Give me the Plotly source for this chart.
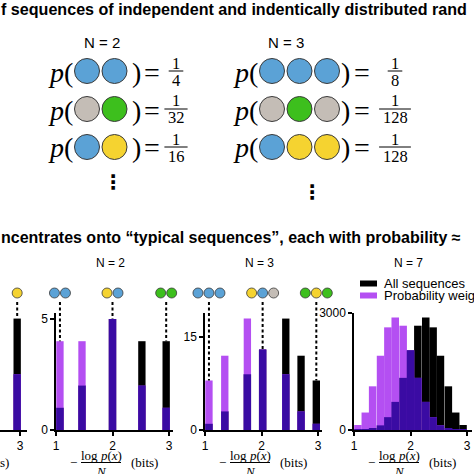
import plotly.graph_objects as go

W = H = 474

# ---- top: example sequences and their probabilities ----
seqs_n2 = [["blue", "blue"], ["gray", "green"], ["blue", "yellow"]]
probs_n2 = [("1", "4"), ("1", "32"), ("1", "16")]
seqs_n3 = [["blue", "blue", "blue"], ["gray", "green", "gray"], ["blue", "yellow", "yellow"]]
probs_n3 = [("1", "8"), ("1", "128"), ("1", "128")]

# ---- bottom: histograms of -log p(x)/N ----
n1_x = [1.05, 2.0, 2.95]
n1_all = [1, 1, 2]
n1_weighted = [2, 1, 1]
n1_both = [1, 1, 1]

n2_x = [1.07, 1.46, 2.0, 2.52, 2.95]
n2_all = [1, 2, 5, 4, 4]
n2_weighted = [4, 4, 5, 2, 1]
n2_both = [1, 2, 5, 2, 1]

n3_x = [1.07, 1.35, 1.75, 2.02, 2.43, 2.7, 2.97]
n3_all = [1, 3, 9, 13, 18, 12, 8]
n3_weighted = [8, 12, 18, 13, 9, 3, 1]
n3_both = [1, 3, 9, 13, 9, 3, 1]

n7_x = [1.07, 1.2, 1.33, 1.47, 1.6, 1.73, 1.87, 2.0, 2.13, 2.27, 2.4, 2.53, 2.67, 2.8, 2.93]
n7_all = [1, 7, 35, 119, 329, 721, 1337, 2045, 2674, 2884, 2632, 1904, 1120, 448, 128]
n7_weighted = [128, 448, 1120, 1904, 2632, 2884, 2674, 2045, 1337, 721, 329, 119, 35, 7, 1]
n7_both = [1, 7, 35, 119, 329, 721, 1337, 2045, 1337, 721, 329, 119, 35, 7, 1]

# sequences drawn above some of the bars
n1_marks = [(2.95, ["yellow"])]
n2_marks = [(1.07, ["blue", "blue"]), (2.0, ["yellow", "blue"]), (2.95, ["green", "green"])]
n3_marks = [(1.07, ["blue", "blue", "blue"]), (2.02, ["yellow", "blue", "gray"]),
            (2.97, ["green", "yellow", "green"])]

legend_labels = ["All sequences", "Probability weighted"]

COL = {"blue": "#5ba2d6", "gray": "#c4bdb6", "green": "#3dbf1d", "yellow": "#f5d330"}
BLACK, PURPLE, INDIGO = "#000000", "#b44ff2", "#3a0ba3"
SANS = "Liberation Sans, Arial, sans-serif"
SERIF = "Liberation Serif, Times New Roman, serif"

BASE, TOP = 430, 313   # pixel rows of y=0 and of the top of the y axes
UNIT = 56.5            # pixels per bit on the x axes

# left/right: pixels of the x axis line; x0: value at its left end
panels = [
    dict(x=n1_x, all=n1_all, w=n1_weighted, both=n1_both, marks=n1_marks, left=0, right=27,
         x0=3 - 20 / UNIT, ymax=2.1, ytick=None, bw=0.13, title=None),
    dict(x=n2_x, all=n2_all, w=n2_weighted, both=n2_both, marks=n2_marks, left=56, right=173,
         x0=1, ymax=5.27, ytick=5, bw=0.13, title="N = 2"),
    dict(x=n3_x, all=n3_all, w=n3_weighted, both=n3_both, marks=n3_marks, left=205, right=322,
         x0=1, ymax=18.9, ytick=15, bw=0.13, title="N = 3"),
    dict(x=n7_x, all=n7_all, w=n7_weighted, both=n7_both, marks=[], left=354, right=472,
         x0=1, ymax=3000, ytick=3000, bw=2 / 15, title="N = 7"),
]

fig = go.Figure()
annos = []
shapes = []


def px(x):
    return x / W


def py(y):
    return (H - y) / H


def txt(x, y, s, size, family=SANS, xanchor="center", yanchor="middle"):
    annos.append(dict(x=px(x), y=py(y), xref="paper", yref="paper", text=s, showarrow=False,
                      font=dict(size=size, family=family, color="black"),
                      xanchor=xanchor, yanchor=yanchor, borderpad=0))


def hline(x0, x1, y, width=1):
    shapes.append(dict(type="line", xref="paper", yref="paper", x0=px(x0), x1=px(x1),
                       y0=py(y), y1=py(y), line=dict(color="black", width=width)))


# ---- titles ----
txt(0, 9, "<b>f sequences of independent and indentically distributed rand</b>", 16.1, xanchor="left")
txt(0, 237, "<b>ncentrates onto \u201ctypical sequences\u201d, each with probability \u2248</b>", 16,
    xanchor="left")

# ---- top equations ----
row_y = [71, 109, 147]
blocks = [
    dict(seqs=seqs_n2, probs=probs_n2, cx=87, paren_r=136, eq=152, frac=176, label=102, dots=(113, 182)),
    dict(seqs=seqs_n3, probs=probs_n3, cx=272, paren_r=345, eq=362, frac=395, label=286, dots=(312, 192)),
]
cxs, cys, ccols = [], [], []
for b in blocks:
    txt(b["label"], 42, "N = " + str(len(b["seqs"][0])), 15)
    for r, (seq, (num, den)) in enumerate(zip(b["seqs"], b["probs"])):
        y = row_y[r]
        for j, c in enumerate(seq):
            cxs.append(b["cx"] + j * 27.5)
            cys.append(y)
            ccols.append(COL[c])
        txt(b["cx"] - 13, y + 1, "<i>p</i>(", 28, SERIF, xanchor="right")
        txt(b["paren_r"], y + 1, ")", 28, SERIF)
        txt(b["eq"], y + 1, "=", 28, SERIF)
        txt(b["frac"], y - 8, num, 16.5, SERIF)
        txt(b["frac"], y + 9, den, 16.5, SERIF)
        half = max(len(num), len(den)) * 4.3 + 3
        hline(b["frac"] - half, b["frac"] + half, y)
    txt(b["dots"][0], b["dots"][1], "<b>\u22ee</b>", 20, "DejaVu Sans")

fig.add_trace(go.Scatter(x=cxs, y=cys, mode="markers", xaxis="x5", yaxis="y5", hoverinfo="skip",
                         marker=dict(size=25, color=ccols, line=dict(color="#3a3a3a", width=1))))

# ---- bottom histograms ----
sx, sy, scol = [], [], []
for i, p in enumerate(panels, start=1):
    xa, ya = "x%d" % i, "y%d" % i
    for vals, color in [(p["all"], BLACK), (p["w"], PURPLE), (p["both"], INDIGO)]:
        fig.add_trace(go.Bar(x=p["x"], y=vals, width=p["bw"], marker_color=color, marker_line_width=0,
                             xaxis=xa, yaxis=ya, hoverinfo="skip"))
    span = (p["right"] - p["left"]) / UNIT
    fig.layout["xaxis%d" % i] = dict(
        domain=[px(p["left"]), px(p["right"])], range=[p["x0"], p["x0"] + span], anchor=ya,
        showline=True, linewidth=1.5, linecolor="black", ticks="outside", ticklen=4, tickwidth=1.5,
        tickcolor="black", tickvals=[1, 2, 3], showgrid=False, zeroline=False,
        tickfont=dict(size=12, family=SANS, color="black"))
    yax = dict(domain=[py(BASE), py(TOP)], range=[0, p["ymax"]], anchor=xa,
               showgrid=False, zeroline=False)
    if p["ytick"] is None:
        yax["visible"] = False
    else:
        yax.update(showline=True, linewidth=1.5, linecolor="black", ticks="outside", ticklen=4,
                   tickwidth=1.5, tickcolor="black", tickvals=[0, p["ytick"]],
                   tickfont=dict(size=12, family=SANS, color="black"))
    fig.layout["yaxis%d" % i] = yax

    # x axis label: -log p(x) / N (bits)
    p0 = p["left"] + (1 - p["x0"]) * UNIT
    txt(p0 + 17, 462, "\u2212", 13, SERIF)
    txt(p0 + 45, 455, "log <i>p</i>(<i>x</i>)", 13, SERIF)
    hline(p0 + 25, p0 + 65, 462.5)
    txt(p0 + 45, 471, "<i>N</i>", 13, SERIF)
    txt(p0 + 88, 462, "(bits)", 13, SERIF)
    if p["title"]:
        txt(p0 + 54, 263, p["title"], 12)

    # marker sequences with dashed pointers to the bars
    yscale = (BASE - TOP) / p["ymax"]
    for bx, seq in p["marks"]:
        k = p["x"].index(bx)
        top_px = BASE - max(p["all"][k], p["w"][k]) * yscale
        cx = p["left"] + (bx - p["x0"]) * UNIT
        fig.add_trace(go.Scatter(x=[cx, cx], y=[302, top_px], mode="lines", xaxis="x5", yaxis="y5",
                                 hoverinfo="skip",
                                 line=dict(color="black", width=2, dash="3px,2.5px")))
        for j, c in enumerate(seq):
            sx.append(cx + (j - (len(seq) - 1) / 2) * 11)
            sy.append(293)
            scol.append(COL[c])

fig.add_trace(go.Scatter(x=sx, y=sy, mode="markers", xaxis="x5", yaxis="y5", hoverinfo="skip",
                         marker=dict(size=10, color=scol, line=dict(color="#3a3a3a", width=0.8))))

# legend of the N = 7 panel
for k, (label, color) in enumerate(zip(legend_labels, [BLACK, PURPLE])):
    ly = 283.5 + 12 * k
    fig.add_trace(go.Scatter(x=[360, 377], y=[ly, ly], mode="lines", xaxis="x5", yaxis="y5",
                             hoverinfo="skip", line=dict(color=color, width=6)))
    txt(383, ly, label, 13, xanchor="left")

fig.update_layout(
    width=W, height=H, margin=dict(l=0, r=0, t=0, b=0, autoexpand=False),
    paper_bgcolor="white", plot_bgcolor="rgba(0,0,0,0)",
    barmode="overlay", showlegend=False,
    xaxis5=dict(domain=[0, 1], range=[0, W], visible=False, fixedrange=True),
    yaxis5=dict(domain=[0, 1], range=[H, 0], visible=False, fixedrange=True),
    annotations=annos, shapes=shapes,
)

# the default page body has an 8px margin; drop it so the figure sits at the window corner
fig.write_html("out.html", config={"displayModeBar": False},
               post_script="document.body.style.margin='0';document.body.style.overflow='hidden';")
